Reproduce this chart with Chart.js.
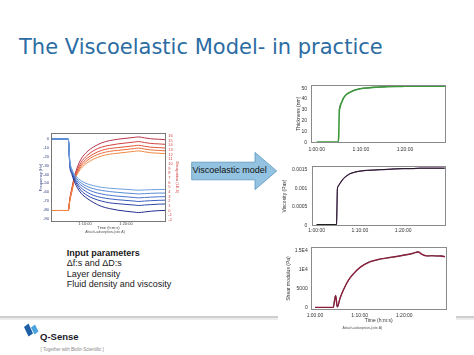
<!DOCTYPE html>
<html><head><meta charset="utf-8">
<script src="https://cdn.jsdelivr.net/npm/chart.js@4.4.1/dist/chart.umd.min.js"></script>
<style>
html,body{margin:0;padding:0;background:#fff;width:474px;height:355px;overflow:hidden;}
body{position:relative;font-family:"Liberation Sans",Arial,sans-serif;}
.abs{position:absolute;white-space:nowrap;}
canvas{position:absolute;}
#title{left:19px;top:36.5px;font-family:"DejaVu Sans",Verdana,sans-serif;font-size:21px;line-height:21px;color:#2b6ca3;}
#params{left:66.7px;top:248.2px;font-size:9px;line-height:10.3px;color:#1a1a1a;}
#arrowTxt{left:192.5px;top:165px;font-size:9px;line-height:10px;color:#111;}
#qs{left:40px;top:332.4px;font-size:9.5px;line-height:10px;font-weight:bold;color:#1c1c2a;}
#tag{left:40.5px;top:346.5px;font-size:4.5px;line-height:5px;color:#888;}
</style></head><body>
<svg class="abs" style="left:0;top:0" width="474" height="355">
  <rect x="0" y="316" width="278" height="2" fill="#cfcfcf"/>
  <rect x="0" y="318" width="278" height="2" fill="#ececec"/>
  <rect x="456" y="316" width="18" height="2" fill="#cfcfcf"/>
  <rect x="456" y="318" width="18" height="2" fill="#ececec"/>
  <polygon points="191.7,162.2 255,162.2 255,152.4 276.7,171 255,189.6 255,179.8 191.7,179.8" fill="#93c3e0" stroke="#5a94c0" stroke-width="0.8"/>
  <path d="M24,327 L28.5,323.5 L33,333.5 L28.5,336.5 Z" fill="#1f5fa6"/>
  <path d="M31,327.5 L35,324.5 L38.5,331.5 L34.5,334.5 Z" fill="#4aa3df"/>
</svg>
<div id="title" class="abs">The Viscoelastic Model- in practice</div>
<div id="arrowTxt" class="abs">Viscoelastic model</div>
<div id="params" class="abs"><b>Input parameters</b><br>Δf:s and ΔD:s<br>Layer density<br>Fluid density and viscosity</div>
<div id="qs" class="abs">Q-Sense</div>
<div id="tag" class="abs">[ Together with Biolin Scientific ]</div>

<canvas id="cL" width="170" height="106" style="left:20px;top:128px"></canvas>
<canvas id="cA" width="172" height="76" style="left:278px;top:78px"></canvas>
<canvas id="cB" width="172" height="76" style="left:278px;top:158px"></canvas>
<canvas id="cC" width="172" height="89" style="left:278px;top:241px"></canvas>

<script>
// ---------- DATA (time in minutes; 60 = 1:00:00) ----------
const timeL  = [62.0, 65.9, 66.3, 66.8, 67.3, 68, 69, 70.5, 72, 74, 76, 78, 80, 82, 83, 84.5, 86, 88, 89.7];
const freq3  = [0,0,-31,-40,-47,-54,-61,-67,-71.5,-76,-78.5,-80.3,-81.5,-82.5,-83,-82.3,-81.5,-80.8,-80.5];
const freq5  = [0,0,-29,-38,-44.5,-51,-58,-63.5,-67,-70,-72,-73,-73.8,-74.5,-75,-74.5,-74,-73.5,-73.3];
const freq7  = [0,0,-28,-37,-43,-49,-55,-60,-63.5,-66,-67.5,-68.5,-69.3,-70,-70.5,-70,-69.6,-69.2,-69];
const freq9  = [0,0,-27,-36,-41.5,-47,-52,-56.5,-59.5,-62,-63.5,-64.5,-65.2,-66,-66.4,-66,-65.6,-65.2,-65];
const freq11 = [0,0,-26,-35,-40,-45,-49.5,-53.5,-56,-58,-59.3,-60.2,-61,-61.6,-62,-61.7,-61.3,-61,-61];
const freq13 = [0,0,-25,-34,-39,-43,-47,-50.5,-52.5,-54.5,-55.5,-56.2,-56.8,-57.5,-57.8,-57.5,-57.2,-57,-57];
const diss3  = [0,0,2.5,4.8,6.9,9.0,11.0,12.6,13.6,14.5,15.0,15.3,15.5,15.7,15.8,15.6,15.4,15.3,15.2];
const diss5  = [0,0,2.4,4.6,6.6,8.5,10.3,11.8,12.8,13.6,14.0,14.3,14.5,14.7,14.8,14.6,14.4,14.3,14.2];
const diss7  = [0,0,2.3,4.4,6.4,8.2,9.8,11.2,12.1,12.9,13.3,13.5,13.7,13.9,14.0,13.8,13.6,13.5,13.4];
const diss9  = [0,0,2.2,4.2,6.2,7.9,9.4,10.7,11.6,12.3,12.7,12.9,13.1,13.3,13.4,13.2,13.0,12.9,12.8];
const diss11 = [0,0,2.1,4.0,6.0,7.6,9.0,10.2,11.0,11.7,12.1,12.3,12.5,12.7,12.8,12.6,12.4,12.3,12.2];
const freqTicks = [0,-10,-20,-30,-40,-50,-60,-70,-80,-90];
const dissTicks = [16,15,14,13,12,11,10,9,8,7,6,5,4,3,2,1,0,-1,-2];
const timeTicksL = [70, 80];

const timeThick = [60, 62, 64, 64.9, 65.0, 65.1, 65.25, 65.45, 65.7, 66.0, 66.4, 66.9, 67.6, 68.3, 69.1, 70.2, 71.4, 72.8, 74.4, 76, 78, 80, 82, 84, 86, 88, 89.2];
const thickness = [0.5, 0.5, 0.5, 0.6, 8, 28, 32, 35, 37.4, 40.5, 42.9, 44.8, 46.4, 47.8, 48.9, 49.8, 50.3, 50.8, 51.2, 51.5, 51.7, 51.8, 51.9, 52.0, 52.0, 51.9, 51.9];
const timeThickMeas = [65.1, 65.25, 65.45, 65.7, 66.0, 66.4, 66.9, 67.6, 68.3, 69.1, 70.2, 71.4, 72.8, 74.4, 76, 78, 80, 82, 84, 86, 88, 89.2];
const thickMeas = [29, 33, 36, 37.2, 40.6, 42.8, 44.9, 46.3, 47.9, 48.8, 49.9, 50.2, 50.9, 51.1, 51.6, 51.6, 51.9, 51.8, 52.1, 51.9, 52.0, 51.8];
const thickTicks = [0,10,20,30,40,50];

const timeVisc = [60, 62, 64, 64.6, 64.7, 64.8, 65.0, 65.4, 65.8, 66.2, 66.9, 67.7, 68.7, 70, 71.5, 73, 74.6, 76.5, 78, 80, 82, 84, 86, 88, 89.6];
const viscosity = [0.00002, 0.00002, 0.00002, 0.00002, 0.0005, 0.00098, 0.00106, 0.00113, 0.0012, 0.00126, 0.00133, 0.00139, 0.00143, 0.00146, 0.00148, 0.00149, 0.0015, 0.00151, 0.00152, 0.00153, 0.00153, 0.00154, 0.00154, 0.00154, 0.00154];
const viscTicks = [0, 0.0005, 0.001, 0.0015];
const viscLabels = ['0', '0.0005', '0.001', '0.0015'];

const timeShear = [60, 62, 64.1, 64.63, 65.0, 65.6, 66.34, 67.46, 68.6, 70.1, 72.3, 74.6, 76.8, 79.8, 82, 83.1, 83.9, 85, 87.3, 89.1];
const shear = [0, 0, 0, 3200, 150, 2350, 4530, 7150, 8900, 10630, 12120, 12830, 13250, 13870, 14400, 14740, 14140, 13700, 13700, 13500];
const timeShearMeas = [64.1, 64.6, 65.0, 65.6, 66.3, 67.5, 68.6, 70.1, 71.0, 72.3, 73.2, 74.6, 75.5, 76.8, 77.8, 79.8, 80.8, 82.0, 83.1, 83.9, 84.6, 85.4, 86.2, 87.3, 88.2, 89.1];
const shearMeas = [0, 3100, 100, 2400, 4500, 7200, 8850, 10700, 11400, 12200, 12350, 12900, 13000, 13300, 13400, 13900, 14050, 14350, 14800, 14100, 13800, 13650, 13800, 13600, 13750, 13450];
const shearTicks = [0, 5000, 10000, 15000];
const shearLabels = ['0', '5000', '1E4', '1.5E4'];
const timeTicksR = [60, 70, 80];

// ---------- helpers ----------
const FF = "'Liberation Sans', Arial, sans-serif";
function fmtTime(m){ const h=Math.floor(m/60), mm=Math.round(m-h*60); return h+':'+String(mm).padStart(2,'0')+':00'; }
function pts(xs, ys){ return xs.map((x,i)=>({x:x, y:ys[i]})); }
const framePlugin = {
  id:'frame',
  afterDatasetsDraw(chart, args, opts){
    const a = chart.chartArea, c = chart.ctx;
    c.save(); c.strokeStyle = opts.color || '#888'; c.lineWidth = 1;
    c.strokeRect(Math.round(a.left)+0.5, Math.round(a.top)+0.5, Math.round(a.right-a.left)-1, Math.round(a.bottom-a.top)-1);
    c.restore();
  }
};
Chart.defaults.font.family = FF;
Chart.defaults.animation = false;
const NOGRID = {display:false, drawTicks:false, tickLength:0};

function line(data, color, w, axis){
  return {data:data, borderColor:color, borderWidth:w, pointRadius:0, fill:false,
          cubicInterpolationMode:'monotone', yAxisID: axis||'y'};
}

// ---------- left chart: frequency / dissipation ----------
const blueC = ['#252f8f','#2c46a8','#3a5fc0','#4a76cc','#5a8cd6','#6ca0de'];
const redC  = ['#b8344c','#d2403e','#e0563a','#ea6e3a','#f08a45'];
const freqs = [freq13, freq11, freq9, freq7, freq5, freq3];
const disss = [diss11, diss9, diss7, diss5, diss3];
const dsL = [];
freqs.forEach((f,i)=>dsL.push(line(pts(timeL,f), blueC[5-i], 1, 'y')));
disss.forEach((d,i)=>dsL.push(line(pts(timeL,d), redC[4-i], 1, 'y1')));

new Chart(document.getElementById('cL'), {
  type:'line', data:{datasets:dsL},
  options:{responsive:false, devicePixelRatio:1,
    layout:{padding:{top:5,right:0,left:0,bottom:0}},
    plugins:{legend:{display:false}, tooltip:{enabled:false}, frame:{color:'#777'},
      subtitle:{display:true, position:'bottom', text:'Attach-adsorption-(site A)', font:{size:3.5}, padding:0, color:'#555'}},
    scales:{
      x:{type:'linear', min:61.7, max:89.75,
        afterBuildTicks:s=>{s.ticks=timeTicksL.map(v=>({value:v}));},
        afterFit:s=>{s.height=8;},
        grid:NOGRID, border:{display:false},
        ticks:{font:{size:4}, color:'#444', padding:0, maxRotation:0, autoSkip:false, callback:v=>fmtTime(v)},
        title:{display:true, text:'Time (h:m:s)', font:{size:4}, padding:0, color:'#444'}},
      y:{type:'linear', position:'left', min:-93.4, max:6.75,
        afterBuildTicks:s=>{s.ticks=freqTicks.map(v=>({value:v}));},
        afterFit:s=>{s.width=31;},
        grid:NOGRID, border:{display:false},
        ticks:{font:{size:4}, color:'#2c3a7a', padding:2, autoSkip:false},
        title:{display:true, text:'Frequency (Hz)', font:{size:4}, padding:{top:18.3,bottom:0}, color:'#2c3a7a'}},
      y1:{type:'linear', position:'right', min:-2.43, max:16.64,
        afterBuildTicks:s=>{s.ticks=dissTicks.map(v=>({value:v}));},
        afterFit:s=>{s.width=24;},
        grid:NOGRID, border:{display:false},
        ticks:{font:{size:4}, color:'#d04040', padding:2.3, autoSkip:false},
        title:{display:true, text:'Dissipation (1E-6)', font:{size:4}, padding:{top:10.9,bottom:0}, color:'#d04040'}}
    }},
  plugins:[framePlugin]
});

// ---------- right charts ----------
function rightChart(id, datasets, cfg){
  return new Chart(document.getElementById(id), {
    type:'line', data:{datasets:datasets},
    options:{responsive:false, devicePixelRatio:1,
      layout:{padding:{top:cfg.padTop, right:cfg.padRight, left:0, bottom:0}},
      plugins:Object.assign({legend:{display:false}, tooltip:{enabled:false}, frame:{color:'#8a8a8a'}}, cfg.plugins||{}),
      scales:{
        x:{type:'linear', min:cfg.xmin, max:cfg.xmax,
          afterBuildTicks:s=>{s.ticks=timeTicksR.map(v=>({value:v}));},
          afterFit:s=>{s.height=cfg.xH;},
          grid:NOGRID, border:{display:false},
          ticks:{font:{size:5}, color:'#333', padding:cfg.xPad, maxRotation:0, autoSkip:false, callback:v=>fmtTime(v)},
          title:cfg.xTitle || {display:false}},
        y:{type:'linear', min:cfg.ymin, max:cfg.ymax,
          afterBuildTicks:s=>{s.ticks=cfg.yTicks.map(v=>({value:v}));},
          afterFit:s=>{s.width=cfg.yW;},
          grid:NOGRID, border:{display:false},
          ticks:{font:{size:5}, color:'#333', padding:cfg.yPad, autoSkip:false,
                 callback:(v)=>{ const i=cfg.yTicks.indexOf(v); return cfg.yLabels? cfg.yLabels[i] : String(v);} },
          title:{display:true, text:cfg.yTitle, font:{size:5}, padding:{top:cfg.yTitlePad,bottom:0}, color:'#333'}}
      }},
    plugins:[framePlugin]
  });
}

rightChart('cA', [
  line(pts(timeThick, thickness), '#3c9a3c', 1.6),
  line(pts(timeThickMeas, thickMeas), '#101010', 0.8)
], {padTop:5, padRight:4, xmin:58.7, xmax:89.3, xH:11.5, xPad:4, ymin:0, ymax:53,
    yTicks:thickTicks, yW:33, yPad:4, yTitle:'Thickness (nm)', yTitlePad:17.3});

rightChart('cB', [
  line(pts(timeVisc, viscosity), '#202020', 1.0),
  line(pts(timeVisc, viscosity), '#7a3a8a', 1.2)
], {padTop:5.3, padRight:4, xmin:59.0, xmax:89.9, xH:7.5, xPad:1.5, ymin:-0.00002, ymax:0.0016,
    yTicks:viscTicks, yLabels:viscLabels, yW:34.3, yPad:5, yTitle:'Viscosity (Pas)', yTitlePad:4});

rightChart('cC', [
  line(pts(timeShear, shear), '#8a1f3c', 1.4),
  line(pts(timeShearMeas, shearMeas), '#101010', 0.7)
], {padTop:5, padRight:3.3, xmin:59.04, xmax:89.5, xH:15.8, xPad:2.3, ymin:-700, ymax:16050,
    yTicks:shearTicks, yLabels:shearLabels, yW:32.7, yPad:3, yTitle:'Shear modulus (Pa)', yTitlePad:7.3,
    xTitle:{display:true, text:'Time (h:m:s)', font:{size:5}, padding:{top:0,bottom:1.8}, color:'#333'},
    plugins:{subtitle:{display:true, position:'bottom', text:'Attach-adsorption-(site A)', font:{size:3.5}, padding:0, color:'#555'}}});
</script>
</body></html>
